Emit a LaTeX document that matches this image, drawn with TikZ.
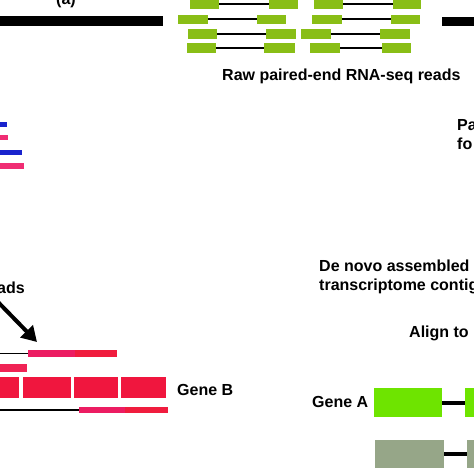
\documentclass[tikz,border=0pt]{standalone}
\usepackage{fontspec}
\setmainfont{Liberation Sans}
\usetikzlibrary{arrows.meta}
\definecolor{readg}{RGB}{137,190,22}
\definecolor{geneA}{RGB}{110,228,0}
\definecolor{grayex}{RGB}{150,166,136}
\definecolor{exred}{RGB}{240,22,62}
\definecolor{rdpink}{RGB}{236,28,98}
\definecolor{rdred}{RGB}{240,28,62}
\definecolor{smpink}{RGB}{240,35,85}
\definecolor{lnblue}{RGB}{25,35,205}
\definecolor{lnpink}{RGB}{240,45,115}
\newcommand\pairread[5]{%
  \draw[line width=2.2pt] (#3,#1+4.75) -- (#4,#1+4.75);
  \fill[readg] (#2,#1) rectangle (#3,#1+9.5);
  \fill[readg] (#4,#1) rectangle (#5,#1+9.5);
}
\begin{document}
\begin{tikzpicture}[x=1pt,y=-1pt,
  lbl/.style={font=\fontsize{16}{19}\selectfont\bfseries, inner sep=0pt}]
\useasboundingbox (0,0) rectangle (474,474);
\clip (0,0) rectangle (474,474);

% black bars
\fill[black] (-5,16) rectangle (163,25.5);
\fill[black] (442,17) rectangle (480,26);

% paired-end reads
\pairread{-0.5}{190}{219}{269}{298}
\pairread{-0.5}{314}{343}{393}{421}
\pairread{14.5}{178}{208}{257}{286}
\pairread{14.5}{312}{342}{391}{420}
\pairread{29}{188}{217}{266}{296}
\pairread{29}{301}{331}{380}{410}
\pairread{43}{187}{216}{264}{295}
\pairread{43}{310}{340}{382}{411}

% labels
\node[lbl, anchor=base] (lbla) at (66,4.5) {(a)};
\node[lbl, anchor=base west] (raw) at (222,80) {Raw paired-end RNA-seq reads};
\node[lbl, anchor=base west] (pa) at (457,130.5) {Pa};
\node[lbl, anchor=base west] (fo) at (457,149.5) {fo};
\node[lbl, anchor=base east] (ads) at (25,293) {ads};
\node[lbl, anchor=base west] (denovo) at (319,271.5) {De novo assembled};
\node[lbl, anchor=base west] (transc) at (319,290) {transcriptome contigs};
\node[lbl, anchor=base west] (align) at (409,337) {Align to};
\node[lbl, anchor=base west] (geneB) at (177,395) {Gene B};
\node[lbl, anchor=base west] (geneA) at (312,407) {Gene A};

% left blue/pink short lines
\fill[lnblue] (-5,122) rectangle (7,127);
\fill[lnpink] (-5,135) rectangle (8,140);
\fill[lnblue] (-5,150) rectangle (22,155);
\fill[lnpink] (-5,163) rectangle (24,169);

% arrow
\coordinate (as) at (-3,301);
\coordinate (at) at (37,342);
\draw[line width=4pt, -{Triangle[length=15pt,width=17pt]}] (as) -- (at);

% pink reads around gene B
\draw[line width=1.2pt] (-5,353.5) -- (28,353.5);
\fill[rdpink] (28,350) rectangle (75,357);
\fill[rdred] (75,350) rectangle (117,357);
\fill[smpink] (-5,364) rectangle (27,372);
\fill[exred] (-5,377) rectangle (19,398);
\fill[exred] (23,377) rectangle (71,398);
\fill[exred] (74,377) rectangle (118,398);
\fill[exred] (121,377) rectangle (166,398);
\draw[line width=1.2pt] (-5,410) -- (79,410);
\fill[rdpink] (79,407) rectangle (125,413);
\fill[rdred] (125,407) rectangle (168,413);

% Gene A and gray contig
\draw[line width=4.5pt] (442,403) -- (465,403);
\fill[geneA] (374,388) rectangle (442,417);
\fill[geneA] (465,388) rectangle (480,417);
\draw[line width=4.5pt] (444,454) -- (467,454);
\fill[grayex] (375,440) rectangle (444,468);
\fill[grayex] (467,440) rectangle (480,468);
\end{tikzpicture}
\end{document}
